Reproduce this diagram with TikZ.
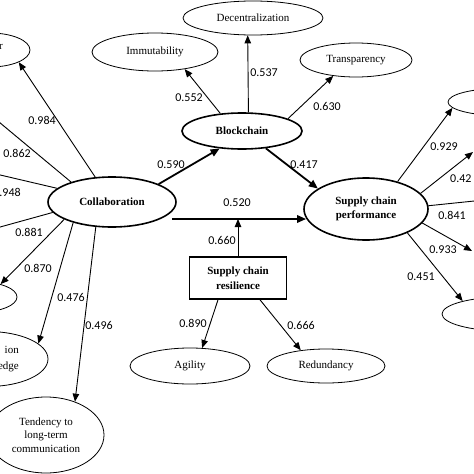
\documentclass[tikz,border=0pt]{standalone}
\usepackage{fontspec}
\setmainfont{Liberation Serif}
\newfontfamily\labfont{Carlito}
\usetikzlibrary{shapes.geometric,arrows.meta}
\begin{document}
\begin{tikzpicture}[x=1pt,y=-1pt,
  ell/.style={ellipse,draw,line width=0.8pt,inner sep=0pt,align=center,font=\fontsize{11}{13.5}\selectfont},
  thickell/.style={ell,line width=1.6pt,font=\fontsize{11}{14.5}\selectfont\bfseries},
  frag/.style={inner sep=0pt,align=right,font=\fontsize{11}{16}\selectfont},
  arr/.style={line width=0.9pt,-{Triangle[length=8pt,width=6.5pt]}},
  tarr/.style={line width=1.8pt,-{Triangle[length=9pt,width=7.5pt]}},
  ln/.style={line width=0.9pt},
  lab/.style={inner sep=0pt,font=\labfont\fontsize{12}{12}\selectfont}
]
\useasboundingbox (0,0) rectangle (474,474);
\clip (0,0) rectangle (474,474);

% indicator ellipses
\node[ell,minimum width=80pt,minimum height=34pt] (tl) at (-10,50) {};
\node[frag] (tltxt) at (1,47) {r};
\node[ell,minimum width=126pt,minimum height=38pt] (im) at (155,52) {Immutability};
\node[ell,minimum width=140pt,minimum height=34pt] (de) at (253,18) {Decentralization};
\node[ell,minimum width=112pt,minimum height=34pt] (tr) at (356,60) {Transparency};
\node[ell,minimum width=74pt,minimum height=30pt] (sm) at (-20,297) {};
\node[ell,minimum width=120pt,minimum height=55pt] (ie) at (-12,359) {};
\node[frag,anchor=east] (ietxt) at (19,359) {ion\\edge};
\node[ell,minimum width=116pt,minimum height=76pt] (te) at (46,435) {Tendency to\\long-term\\communication};
\node[ell,minimum width=120pt,minimum height=36pt] (ag) at (190,366) {Agility};
\node[ell,minimum width=118pt,minimum height=34pt] (re) at (326,366) {Redundancy};
\node[ell,minimum width=104pt,minimum height=27pt] (rt) at (500,102) {};
\node[ell,minimum width=126pt,minimum height=34pt] (rb) at (505,314) {};

% constructs
\node[thickell,minimum width=120pt,minimum height=36pt] (bc) at (242,131) {Blockchain};
\node[thickell,minimum width=128pt,minimum height=50pt] (co) at (112,202) {Collaboration};
\node[thickell,minimum width=124pt,minimum height=62pt] (sp) at (366,209) {Supply chain\\performance};
\node[draw,line width=1.6pt,minimum width=97pt,minimum height=42pt,inner sep=2pt,align=center,
      font=\fontsize{11}{15}\selectfont\bfseries] (sr) at (238,278) {Supply chain\\resilience};

% free ends
\coordinate (c862) at (-10,114.5);
\coordinate (c948) at (-10,172.6);
\coordinate (c881) at (-10,229.8);
\coordinate (r2) at (473,152);
\coordinate (r3) at (484,200);
\coordinate (r4) at (472,251);
\coordinate (hs) at (172,219);

% collaboration indicators
\draw[arr] (co.124) -- (tl.-23);
\draw[ln] (co.154.6) -- (c862);
\draw[ln] (co.166) -- (c948);
\draw[ln] (co.190) -- (c881);
\draw[arr] (co.200) -- (sm.32.5);
\draw[arr] (co.208) -- (ie.17);
\draw[arr] (co.237) -- (te.49.8);

% structural paths
\draw[tarr] (co.21.6) -- (bc.218);
\draw[tarr] (bc.-36) -- (sp.157.6);
\draw[tarr] (hs) -- (hs -| sp.189);
\draw[arr] (sr.north) -- (sr.north |- hs);

% resilience indicators
\draw[arr] ([xshift=-20pt]sr.south) -- (ag.56.3);
\draw[arr] ([xshift=22pt]sr.south) -- (re.148.4);

% blockchain indicators
\draw[arr] (bc.141) -- (im.-30.6);
\draw[arr] (bc.71.6) -- (de.253.6);
\draw[arr] (bc.15.8) -- (tr.215.3);

% performance indicators
\draw[arr] (sp.41) -- (rt.187);
\draw[arr] (sp.16) -- (r2);
\draw[ln] (sp.3.7) -- (r3);
\draw[arr] (sp.-14) -- (r4);
\draw[arr] (sp.-30.3) -- (rb.163);

% loadings
\node[lab] (l984) at (42,120) {0.984};
\node[lab] (l862) at (17,153) {0.862};
\node[lab] (l948) at (7,192) {0.948};
\node[lab] (l881) at (29,232) {0.881};
\node[lab] (l870) at (38,268) {0.870};
\node[lab] (l476) at (71,297) {0.476};
\node[lab] (l496) at (99,325) {0.496};
\node[lab] (l590) at (171,165) {0.590};
\node[lab] (l417) at (304,165) {0.417};
\node[lab] (l520) at (237,203) {0.520};
\node[lab] (l660) at (222,240) {0.660};
\node[lab] (l890) at (193,323) {0.890};
\node[lab] (l666) at (301,325) {0.666};
\node[lab] (l552) at (189,98) {0.552};
\node[lab] (l537) at (264,73) {0.537};
\node[lab] (l630) at (327,106) {0.630};
\node[lab] (l929) at (444,147) {0.929};
\node[lab,anchor=west] (l42) at (450,179) {0.42};
\node[lab] (l841) at (452,215) {0.841};
\node[lab] (l933) at (443,250) {0.933};
\node[lab] (l451) at (421,277) {0.451};
\end{tikzpicture}
\end{document}
